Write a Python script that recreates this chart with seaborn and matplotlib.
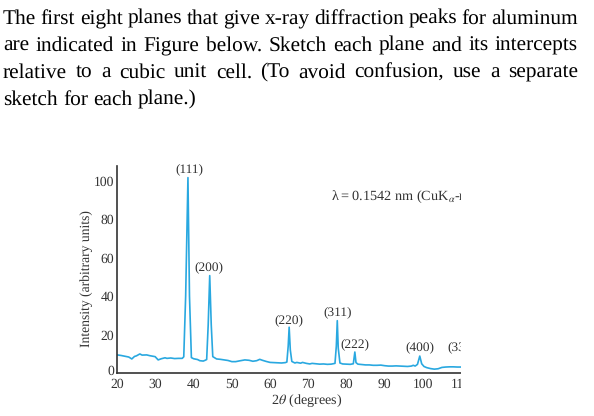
import matplotlib
matplotlib.use("Agg")
import matplotlib.pyplot as plt
from matplotlib.patches import Rectangle
from matplotlib.transforms import ScaledTranslation
import seaborn as sns

# paragraph above the chart
para_lines = [
    "The first eight planes that give x-ray diffraction peaks for aluminum",
    "are indicated in Figure below. Sketch each plane and its intercepts",
    "relative to a cubic unit cell. (To avoid confusion, use a separate",
    "sketch for each plane.)",
]

# diffraction pattern
two_theta = [20.0, 21.0, 22.0, 23.0, 23.8, 24.5, 25.0, 25.9, 26.5, 27.7, 28.5, 29.9, 30.7,
             31.5, 32.5, 33.0, 34.0, 35.0, 36.0, 37.0, 37.4, 37.9, 38.5, 38.9, 39.4,
             40.0, 41.0, 41.6, 42.5, 43.0, 43.4, 43.8, 44.2, 44.6, 45.0,
             46.0, 47.0, 48.0, 49.0, 50.0, 51.0, 52.0, 53.4, 54.5, 55.5, 56.5, 57.3,
             58.0, 59.0, 60.0, 61.0, 62.0, 63.0, 64.0, 64.4, 64.75, 65.0, 65.3, 65.7,
             66.5, 67.0, 68.0, 68.5, 69.5, 70.4, 71.0, 72.0, 73.0, 74.0, 75.0, 76.0,
             77.0, 77.35, 77.6, 77.85, 78.3, 79.0, 80.0, 81.0, 81.8, 82.2, 82.5,
             83.0, 84.0, 85.0, 86.0, 87.0, 88.0, 89.0, 90.0, 91.0, 92.0, 93.0, 94.0,
             95.0, 96.0, 97.0, 97.5, 98.0, 98.6, 99.2, 99.7, 100.3, 101.0, 102.0,
             103.0, 104.0, 105.0, 106.0, 107.0, 108.0, 109.0, 110.0, 111.0, 112.0]
intensity = [9.4, 9.1, 8.7, 8.3, 7.3, 8.6, 8.9, 9.9, 9.3, 9.4, 9.0, 8.5, 6.8,
             7.4, 7.9, 7.6, 7.8, 7.5, 7.6, 7.6, 8.4, 40.0, 101.5, 40.0, 8.0,
             7.4, 7.0, 6.4, 6.2, 6.6, 7.0, 25.0, 50.6, 25.0, 8.5,
             7.3, 7.1, 6.8, 6.5, 5.9, 5.9, 6.3, 6.8, 6.6, 6.1, 6.4, 7.1,
             6.6, 6.0, 5.5, 5.4, 5.3, 5.2, 5.4, 5.7, 14.0, 23.8, 12.0, 6.0,
             5.2, 5.5, 5.1, 5.5, 5.0, 4.7, 5.0, 4.8, 4.6, 4.7, 4.5, 4.6,
             5.0, 14.0, 27.2, 13.0, 5.2, 4.7, 4.6, 4.5, 4.8, 10.9, 5.4,
             4.6, 4.4, 4.2, 4.2, 4.0, 4.0, 4.1, 3.8, 3.6, 3.6, 3.7, 3.6,
             3.5, 3.4, 3.6, 4.0, 3.6, 4.5, 8.8, 4.8, 3.4, 2.8, 2.3,
             2.0, 2.2, 2.9, 3.1, 3.2, 3.2, 3.1, 3.1, 3.0, 3.0]

# peak labels (the last one is cut off by the crop, so it is left-anchored)
peak_names = ["(111)", "(200)", "(220)", "(311)", "(222)", "(400)", "(331)"]
peak_x = [38.8, 44.1, 65.0, 77.6, 82.2, 99.2, 106.5]
peak_y = [105.9, 55.0, 27.6, 31.4, 15.1, 13.2, 13.2]

W, H = 594, 416
sns.set_style("white")
plt.rcParams["font.family"] = ["Liberation Serif", "DejaVu Serif"]
plt.rcParams["mathtext.fontset"] = "stix"
plt.rcParams["text.hinting"] = "no_hinting"

fig = plt.figure(figsize=(W / 100, H / 100), dpi=100)
ax = fig.add_axes([117.3 / W, 43 / H, 401 / W, 207.3 / H])

sns.lineplot(x=two_theta, y=intensity, ax=ax, color="#29a8e0", linewidth=1.2)

ax.set_xlim(20, 125)
ax.set_ylim(0, 107.7)
ax.set_xticks(range(20, 130, 10))
ax.set_yticks(range(0, 101, 20))
ax.tick_params(direction="in", length=6, width=1, colors="#333333",
               labelsize=9.8, pad=2)
ax.tick_params(axis="x", pad=4)
for side in ["top", "right"]:
    ax.spines[side].set_visible(False)
for side in ["left", "bottom"]:
    ax.spines[side].set_color("#333333")
    ax.spines[side].set_linewidth(1.2)

# the "0" sits a little above the corner in the original
zero_lbl = ax.yaxis.get_major_ticks()[0].label1
zero_lbl.set_transform(zero_lbl.get_transform()
                       + ScaledTranslation(0, 3 / 100, fig.dpi_scale_trans))

ax.set_ylabel("Intensity (arbitrary units)", fontsize=9.8, color="#333333")
ax.yaxis.set_label_coords(-0.061, 0.455)
ax.set_xlabel(r"2$\theta$ (degrees)", fontsize=10.2, color="#333333")
ax.xaxis.set_label_coords(0.472, -0.094)

for i, (name, px, py) in enumerate(zip(peak_names, peak_x, peak_y)):
    ha = "left" if i == len(peak_names) - 1 else "center"
    ax.text(px, py, name, ha=ha, va="center", fontsize=9.6, color="#333333")

ax.text(331 / W, 1 - 200 / H,
        "λ\u2009=\u20090.1542 nm (CuK$_\\alpha$-radiation)",
        transform=fig.transFigure, fontsize=10.3, color="#333333", va="baseline")

# the source image is cut off to the right of the chart
fig.patches.append(Rectangle((461 / W, 0), 1 - 461 / W, 1 - 125 / H,
                             transform=fig.transFigure, facecolor="white",
                             edgecolor="none", zorder=10))

# justified paragraph
body_size = 15.4
x0, x1 = 3, 578
baselines = [24, 51, 78, 105]
r = fig.canvas.get_renderer()
for i, (line, base) in enumerate(zip(para_lines, baselines)):
    words = line.split()
    texts = [fig.text(0, 1 - base / H, w, fontsize=body_size, va="baseline",
                      color="black") for w in words]
    widths = [t.get_window_extent(r).width for t in texts]
    if i < len(para_lines) - 1:
        gap = (x1 - x0 - sum(widths)) / (len(words) - 1)
    else:
        gap = 0.25 * body_size * 100 / 72
    x = x0
    for t, w in zip(texts, widths):
        t.set_x(x / W)
        x += w + gap

fig.savefig("out.png", dpi=100)
